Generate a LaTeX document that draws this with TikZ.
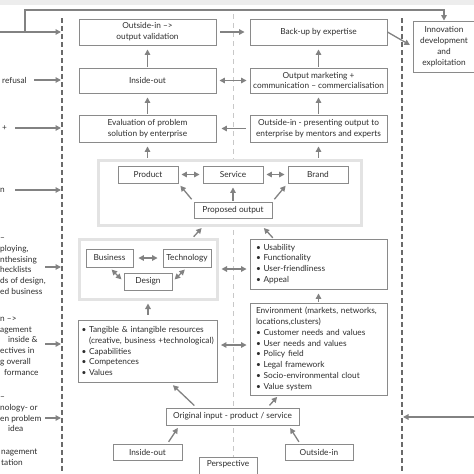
\documentclass[tikz,border=0pt]{standalone}
\usepackage{fontspec}
\setmainfont{Lato}
\usetikzlibrary{arrows.meta,calc}
\definecolor{bx}{HTML}{8A8A8A}
\definecolor{ar}{HTML}{828282}
\definecolor{tx}{HTML}{2E2E2E}
\definecolor{lg}{HTML}{E3E3E3}
\definecolor{dl}{HTML}{6A6A6A}
\definecolor{ml}{HTML}{C8C8C8}
\newcommand{\fs}{\fontsize{8.3}{10.8}\selectfont}
\begin{document}
\begin{tikzpicture}[x=1pt,y=-1pt,
  box/.style={draw=bx,line width=0.9pt,fill=white,text=tx,font=\fs,align=center,inner sep=2pt},
  lbox/.style={box,align=left,inner xsep=6pt},
  grp/.style={draw=lg,line width=3pt,fill=white},
  arr/.style={draw=ar,line width=1.3pt,-{Triangle[length=5.5pt,width=5.5pt]}},
  darr/.style={draw=ar,line width=1.3pt,{Triangle[length=5.5pt,width=5.5pt]}-{Triangle[length=5.5pt,width=5.5pt]}},
  lt/.style={text=tx,font=\fs,align=left,inner sep=0pt},
  vsh/.style={shorten >=4pt,shorten <=1pt},
  hsh/.style={shorten >=5pt,shorten <=4pt},
  dsh/.style={shorten >=3pt,shorten <=3pt},
  ]
\useasboundingbox (0,0) rectangle (474,474);
\clip (0,0) rectangle (474,474);
\fill[white] (0,0) rectangle (474,474);
\fill[black!7] (0,0) rectangle (474,5);

% dashed separators
\draw[ml,line width=1pt,dash pattern=on 5pt off 4pt] (233,14) -- (233,474);
\draw[dl,line width=1.2pt,dash pattern=on 5pt off 3pt] (62,18) -- (62,474);
\draw[dl,line width=1.2pt,dash pattern=on 5pt off 3pt] (402,18) -- (402,474);

% top boxes
\node[box,minimum width=137,minimum height=26] (A1) at (147.5,32) {Outside-in –>\\output validation};
\node[box,minimum width=137,minimum height=25] (A2) at (147.5,80.5) {Inside-out};
\node[box,minimum width=137,minimum height=27] (A3) at (147.5,128.5) {Evaluation of problem\\solution by enterprise};
\node[box,minimum width=137,minimum height=26] (B1) at (318.5,32) {Back-up by expertise};
\node[box,minimum width=137,minimum height=25] (B2) at (318.5,80.5) {Output marketing +\\communication – commercialisation};
\node[box,minimum width=137,minimum height=27] (B3) at (318.5,128.5) {Outside-in - presenting output to\\enterprise by mentors and experts};
\node[box,minimum width=62,minimum height=51] (Inn) at (444,46.5) {Innovation\\development\\and\\exploitation};

% groups
\node[grp,minimum width=263,minimum height=65] (G1) at (229.5,192.5) {};
\node[grp,minimum width=138,minimum height=60] (G2) at (148,269) {};

\node[box,minimum width=60,minimum height=17] (Prod) at (148,174.5) {Product};
\node[box,minimum width=60,minimum height=17] (Serv) at (233,174.5) {Service};
\node[box,minimum width=60,minimum height=17] (Brand) at (318,174.5) {Brand};
\node[box,minimum width=78,minimum height=16] (Prop) at (233,210) {Proposed output};

\node[box,minimum width=47,minimum height=18] (Bus) at (109.5,258) {Business};
\node[box,minimum width=48,minimum height=18] (Tech) at (187,258) {Technology};
\node[box,minimum width=48,minimum height=17] (Des) at (148,281.5) {Design};

\node[lbox,minimum width=137,minimum height=50,text width=125] (Usab) at (318.5,264)
  {• Usability\\• Functionality\\• User-friendliness\\• Appeal};
\node[box,align=left,inner xsep=3pt,minimum width=138,minimum height=62,text width=133] (Res) at (148,351)
  {• Tangible \& intangible resources\\\phantom{• }\mbox{(creative, business +technological)}\\• Capabilities\\• Competences\\• Values};
\node[lbox,minimum width=137,minimum height=92,text width=125] (Env) at (318.5,349)
  {Environment (markets, networks,\\locations,clusters)\\• Customer needs and values\\• User needs and values\\• Policy field\\• Legal framework\\• Socio-environmental clout\\• Value system};

\node[box,minimum width=133,minimum height=17] (Orig) at (232.5,416.5) {Original input - product / service};
\node[box,minimum width=69,minimum height=16] (InOut) at (147.5,452) {Inside-out};
\node[box,minimum width=68,minimum height=16] (OutIn) at (319,452) {Outside-in};
\node[box,anchor=north,minimum width=58,text height=6pt,text depth=14pt,inner ysep=3pt] (Persp) at (228,457) {Perspective};

% left texts
\node[lt,anchor=west] (t1) at (2,80) {refusal};
\node[lt,anchor=west] (t2) at (2,128) {+};
\node[lt,anchor=west] (t3) at (0,190) {n};
\node[lt,anchor=north west] (t4) at (0,237.5) {–\\ploying,\\nthesising\\hecklists\\ds of design,\\ed business};
\node[lt,anchor=north west] (t5) at (0,316.5) {n –>\\agement\\\hspace*{8pt}inside \&\\ectives in\\g overall\\\hspace*{4pt}formance};
\node[lt,anchor=north west] (t6) at (0,396.5) {–\\nology- or\\en problem\\\hspace*{8pt}idea};
\node[lt,anchor=north west] (t7) at (1,448.5) {nagement\\tation};

% left arrows
\coordinate (s0) at (0,32);   \coordinate (e0) at (61,32);
\coordinate (s1) at (34,80);  \coordinate (e1) at (61,80);
\coordinate (s2) at (15,128); \coordinate (e2) at (61,128);
\coordinate (s3) at (15,190); \coordinate (e3) at (61,190);
\coordinate (s4) at (45,267); \coordinate (e4) at (61,267);
\coordinate (s5) at (45,344); \coordinate (e5) at (61,344);
\coordinate (s6) at (45,418); \coordinate (e6) at (61,418);
\foreach \i in {0,...,6} {\draw[arr] (s\i) -- (e\i);}
\coordinate (r0) at (474,417); \coordinate (r1) at (403,417);
\draw[arr] (r0) -- (r1);

% top connector
\coordinate (tj) at (25,32);
\coordinate (tk) at (444,10);
\draw[ar,line width=1.8pt,-{Triangle[length=5.5pt,width=5.5pt]}] (tj) |- (tk) -- (Inn.north);

% column arrows
\draw[arr,vsh] (A2.north) -- (A1.south);
\draw[arr,vsh] (A3.north) -- (A2.south);
\draw[arr,vsh] (B2.north) -- (B1.south);
\draw[arr,vsh] (B3.north) -- (B2.south);
\draw[arr,vsh] (A3.south |- G1.north) -- (A3.south);
\draw[arr,vsh] (B3.south |- G1.north) -- (B3.south);
\draw[arr,hsh] (A1.east) -- (B1.west);
\draw[darr,dsh] (A2.east) -- (B2.west);
\draw[arr,hsh] (B3.west) -- (A3.east);
\draw[arr,shorten >=3pt] (B1.east) -- (Inn.west);

% proposed output group
\draw[arr,dsh] (Prop.north west) -- (Prod.south east);
\draw[arr,vsh] (Prop.north) -- (Serv.south);
\draw[arr,dsh] (Prop.north east) -- (Brand.south west);
\draw[darr,dsh] (Prod.east) -- (Serv.west);
\draw[darr,dsh] (Serv.east) -- (Brand.west);

% business group
\draw[darr,shorten >=5pt,shorten <=5pt] (Bus.east) -- (Tech.west);
\draw[darr,dsh] (Bus.south) -- (Des.west);
\draw[darr,dsh] (Tech.south) -- (Des.east);
\draw[arr,shorten >=2pt,shorten <=1pt] ([xshift=45pt]G2.north) -- ([xshift=-26.5pt]G1.south);
\draw[arr,shorten >=2pt,shorten <=1pt] ([xshift=-45pt]Usab.north) -- ([xshift=33pt]G1.south);
\draw[darr,dsh] (G2.east) -- (G2.east -| Usab.west);

% lower part
\draw[arr,shorten >=3pt,shorten <=5pt] (Res.north) -- (G2.south);
\draw[arr,vsh] (Env.north) -- (Usab.south);
\draw[darr,dsh] (Res.east |- 0,345) -- (Env.west |- 0,345);
\draw[arr,shorten >=4pt,shorten <=3pt] ([xshift=-36pt]Orig.north) -- ([xshift=22pt]Res.south);
\draw[arr,shorten >=2pt,shorten <=3pt] ([xshift=35pt]Orig.north) -- ([xshift=-40pt]Env.south);
\draw[arr,shorten >=3pt,shorten <=2pt] ([xshift=20pt]InOut.north) -- ([xshift=-53pt]Orig.south);
\draw[arr,shorten >=3pt,shorten <=2pt] ([xshift=-19pt]OutIn.north) -- ([xshift=56pt]Orig.south);
\end{tikzpicture}
\end{document}
